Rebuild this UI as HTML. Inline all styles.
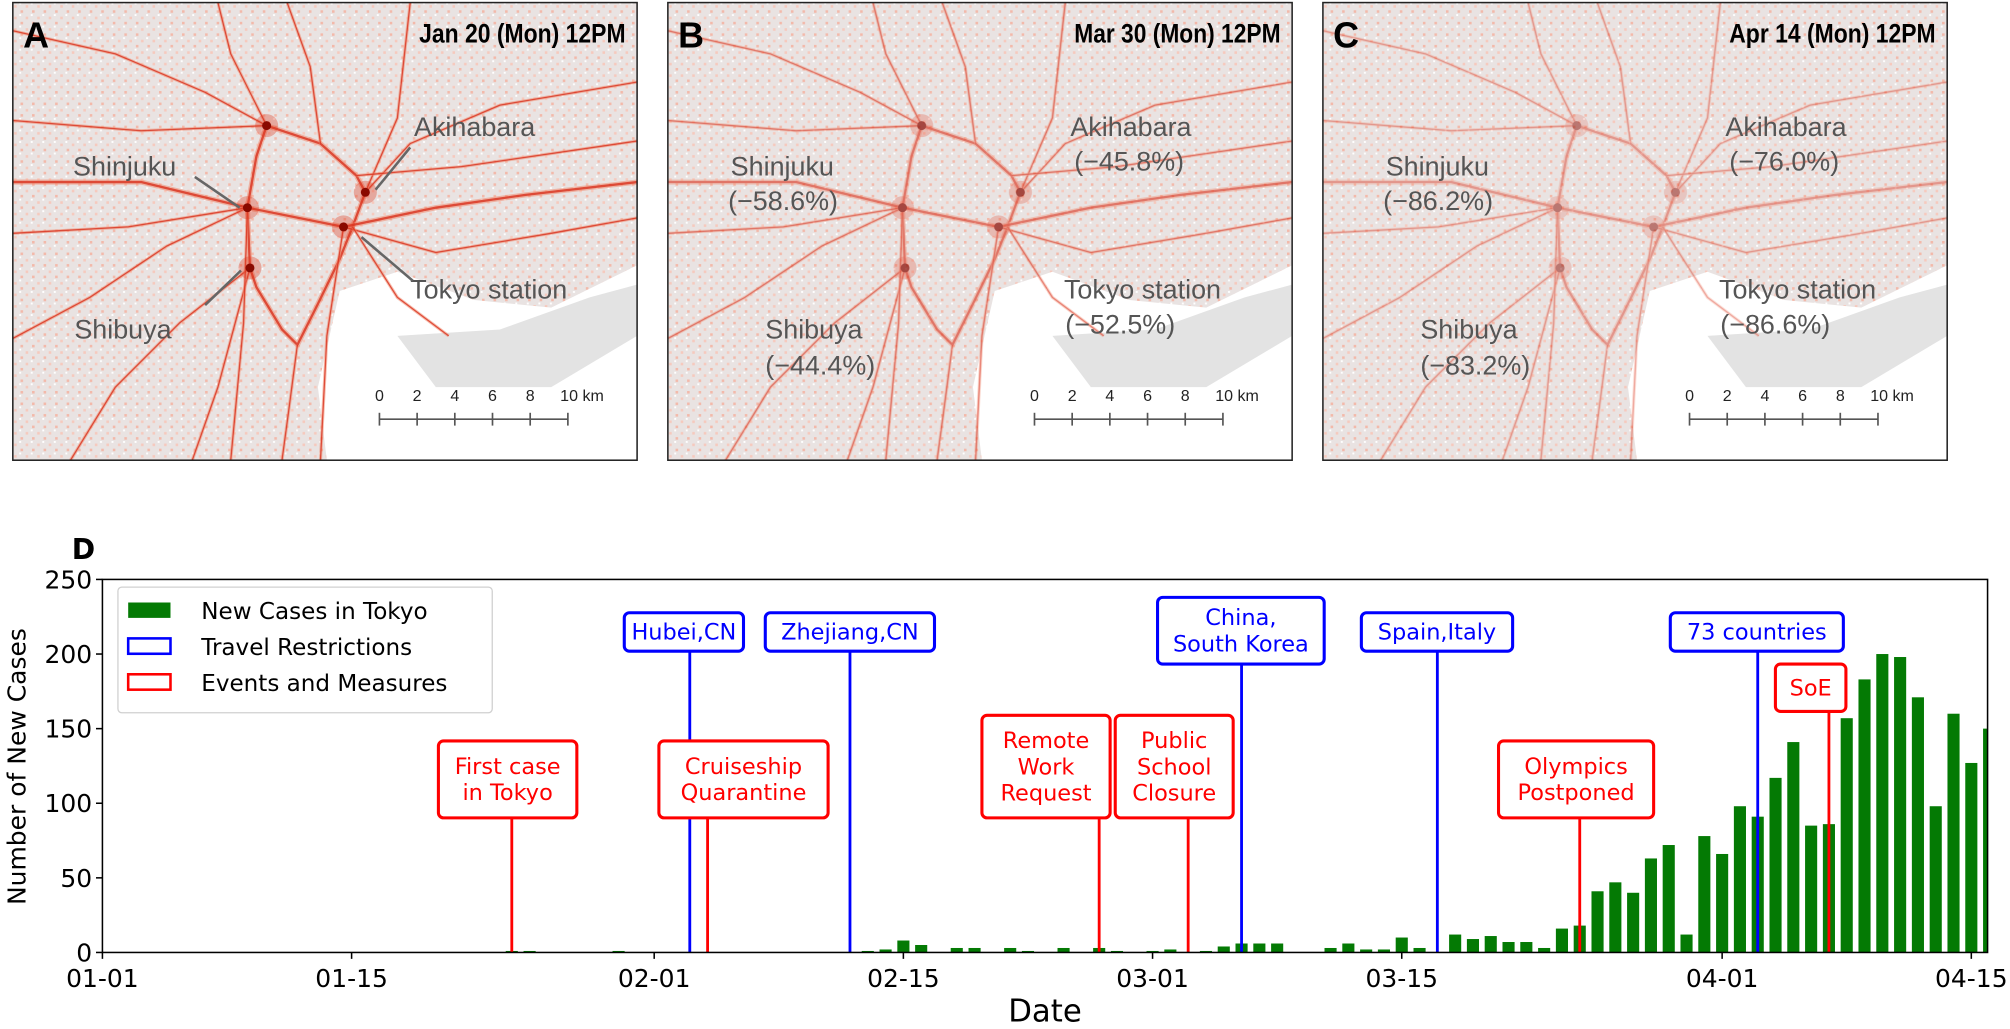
<!DOCTYPE html>
<html><head><meta charset="utf-8">
<style>
html,body{margin:0;padding:0;background:#fff;}
svg{display:block;}
text{font-family:"DejaVu Sans","Liberation Sans",sans-serif;}
.mt{font-family:"Liberation Sans",sans-serif;}
</style></head>
<body>
<svg id="fig" width="2010" height="1029" viewBox="0 0 1568 802.7" xmlns="http://www.w3.org/2000/svg">
<defs>
<pattern id="speck" width="9" height="9" patternUnits="userSpaceOnUse">
<rect width="9" height="9" fill="#e9e3e2"/>
<rect x="1" y="2" width="2" height="2" fill="#f6c9bd"/>
<rect x="6" y="6" width="2" height="2" fill="#f3b9aa"/>
<rect x="5" y="0" width="1.5" height="1.5" fill="#ffffff"/>
</pattern>
</defs>
<g id="maps"></g>
<g id="chart"></g>
</svg>
<script>
// ---------- chart data ----------
const caseDays  = [23,24,29,43,44,45,46,48,49,51,52,54,56,57,59,60,62,63,64,65,66,69,70,71,72,73,74,76,77,78,79,80,81,82,83,84,85,86,87,88,89,90,91,92,93,94,95,96,97,98,99,100,101,102,103,104,105,106];
const caseVals  = [1,1,1,1,2,8,5,3,3,3,1,3,3,1,1,2,1,4,6,6,6,3,6,2,2,10,3,12,9,11,7,7,3,16,18,41,47,40,63,72,12,78,66,98,91,117,141,85,86,157,183,200,198,171,98,160,127,150];
const xTickLabels = ["01-01","01-15","02-01","02-15","03-01","03-15","04-01","04-15"];
const xTickDays   = [0,14,31,45,59,73,91,105];
const yTickVals   = [0,50,100,150,200,250];
const eventNames = [["First case","in Tokyo"],["Hubei,CN"],["Cruiseship","Quarantine"],["Zhejiang,CN"],["Remote","Work","Request"],["Public","School","Closure"],["China,","South Korea"],["Spain,Italy"],["Olympics","Postponed"],["73 countries"],["SoE"]];
const eventDays  = [23,33,34,42,56,61,64,75,83,93,97];
const eventKinds = ["event","travel","event","travel","event","event","travel","travel","event","travel","event"];
// label box layout (display units): [left, right, top, bottom]
const boxLayout = [[342,450,578,638],[487,580,478,508],[514,646,578,638],[597,729,478,508],[766,866,558,638],[870,962,558,638],[903,1033,466,518],[1062,1180,478,508],[1169,1290,578,638],[1303,1438,478,508],[1385,1440,518,555]];

const NS="http://www.w3.org/2000/svg";
function mk(tag, attrs, parent){const e=document.createElementNS(NS,tag);for(const k in attrs)e.setAttribute(k,attrs[k]);parent.appendChild(e);return e;}

// axes geometry (display units)
const X0=79.9, PXD=13.885, Y0=743, PXC=291/250, XR=1550.5, YT=452;
const xS=d=>X0+d*PXD;
const yS=v=>Y0-v*PXC;

const chart=document.getElementById('chart');
// bars
const bw=0.68*PXD;
const clip=mk('clipPath',{id:'axclip'},chart);
mk('rect',{x:X0,y:YT,width:XR-X0,height:Y0-YT},clip);
const barsG=mk('g',{'clip-path':'url(#axclip)'},chart);


caseDays.forEach((d,i)=>{
  const r=mk('rect',{x:xS(d)-bw/2,y:yS(caseVals[i]),width:bw,height:caseVals[i]*PXC,fill:'#047a04'},barsG);
  
  
});
// event lines and boxes
eventDays.forEach((d,i)=>{
  const col=eventKinds[i]==='travel'?'#0000ff':'#ff0000';
  const b=boxLayout[i];
  const ln=mk('line',{x1:xS(d),x2:xS(d),y1:b[3],y2:Y0,stroke:col,'stroke-width':2.2},chart);
  
  
  const rc=mk('rect',{x:b[0],y:b[2],width:b[1]-b[0],height:b[3]-b[2],rx:4,fill:'#fff',stroke:col,'stroke-width':2.4},chart);
  
  
  const lines=eventNames[i], n=lines.length, lh=20.5;
  const cy=(b[2]+b[3])/2;
  lines.forEach((t,j)=>{
    const tx=mk('text',{x:(b[0]+b[1])/2,y:cy+(j-(n-1)/2)*lh+6,'text-anchor':'middle','font-size':17.5,fill:col},chart);
    tx.textContent=t;
    
    
  });
});
// axes frame
const fr=mk('rect',{x:X0,y:YT,width:XR-X0,height:Y0-YT,fill:'none',stroke:'#000','stroke-width':1.2},chart);


// ticks
xTickDays.forEach((d,i)=>{
  const t=mk('line',{x1:xS(d),x2:xS(d),y1:Y0,y2:Y0+5,stroke:'#000','stroke-width':1.2},chart);
  
  
  const l=mk('text',{x:xS(d),y:Y0+27,'text-anchor':'middle','font-size':19.5},chart);
  l.textContent=xTickLabels[i];
  
  
});
yTickVals.forEach(v=>{
  const t=mk('line',{x1:X0-5,x2:X0,y1:yS(v),y2:yS(v),stroke:'#000','stroke-width':1.2},chart);
  
  
  const l=mk('text',{x:X0-8,y:yS(v)+7,'text-anchor':'end','font-size':19.5},chart);
  l.textContent=String(v);
  
  
});
const xt=mk('text',{x:(X0+XR)/2,y:797,'text-anchor':'middle','font-size':24},chart);
xt.textContent='Date';


const yt=mk('text',{x:0,y:0,'text-anchor':'middle','font-size':19.5,transform:'translate(20,598) rotate(-90)'},chart);
yt.textContent='Number of New Cases';


const pd=mk('text',{x:56,y:436,'font-size':22,'font-weight':'bold'},chart);
pd.textContent='D';


// legend
const lg=mk('g',{},chart);


mk('rect',{x:92,y:458,width:292,height:98,rx:3,fill:'#fff',stroke:'#d0d0d0','stroke-width':1},lg);
const legItems=[["New Cases in Tokyo","#047a04",true],["Travel Restrictions","#0000ff",false],["Events and Measures","#ff0000",false]];
legItems.forEach((it,i)=>{
  const y=470+i*28;
  const sw=mk('rect',{x:100,y:y,width:33,height:12,fill:it[2]?it[1]:'#fff',stroke:it[2]?'none':it[1],'stroke-width':2},lg);
  
  
  const tx=mk('text',{x:157,y:y+13,'font-size':18},lg);
  tx.textContent=it[0];
  
  
});

// ---------- maps ----------
const maps=document.getElementById('maps');
const panels=[
 {x:10,letter:'A',title:'Jan 20 (Mon) 12PM',op:1,pct:null},
 {x:521,letter:'B',title:'Mar 30 (Mon) 12PM',op:0.72,pct:['(\u221258.6%)','(\u221245.8%)','(\u221252.5%)','(\u221244.4%)']},
 {x:1032,letter:'C',title:'Apr 14 (Mon) 12PM',op:0.5,pct:['(\u221286.2%)','(\u221276.0%)','(\u221286.6%)','(\u221283.2%)']}
];
const roads=[
 [[198,96],[240,110],[268,135],[275,148],[265,175],[255,200],[238,235],[222,267],[210,255],[190,222],[185,207],[183,160],[190,120],[198,96]],
 [[0,140],[100,140],[183,160],[258,175],[330,160],[400,150],[487,140]],
 [[183,160],[120,190],[60,230],[0,262]],
 [[185,207],[130,250],[80,300],[45,357]],
 [[198,96],[170,40],[160,0]],
 [[198,96],[150,70],[80,40],[0,22]],
 [[275,148],[310,110],[380,80],[487,62]],
 [[275,148],[300,90],[310,0]],
 [[258,175],[330,195],[420,180],[487,168]],
 [[222,267],[215,320],[210,357]],
 [[185,207],[160,300],[140,357]],
 [[240,110],[232,50],[214,0]],
 [[268,135],[350,128],[487,108]],
 [[0,92],[100,100],[198,96]],
 [[183,160],[180,250],[170,357]],
 [[258,175],[245,260],[240,357]],
 [[0,180],[90,175],[183,160]],
 [[265,175],[300,230],[340,260]]
];
panels.forEach((p,pi)=>{
  const g=mk('g',{transform:'translate('+p.x+',2)'},maps);
  
  
  mk('rect',{x:0,y:0,width:487,height:357,fill:'url(#speck)'},g);
  const bay=mk('polygon',{points:'255,225 300,210 360,232 420,238 487,205 487,357 245,357 238,300',fill:'#fff'},g);
  
  
  mk('polygon',{points:'300,260 380,255 450,230 487,220 487,260 420,300 330,300',fill:'#e3e3e3'},g);
  const rg=mk('g',{opacity:p.op,fill:'none','stroke-linejoin':'round'},g);
  
  
  roads.forEach((r,ri)=>{
    mk('polyline',{points:r.map(q=>q.join(',')).join(' '),stroke:'#f08a70','stroke-width':ri<2?4:2.5,opacity:0.55},rg);
    mk('polyline',{points:r.map(q=>q.join(',')).join(' '),stroke:'#d8301c','stroke-width':ri<2?1.8:1,opacity:0.8},rg);
  });
  [[183,160],[185,207],[258,175],[275,148],[198,96]].forEach(c=>{
    mk('circle',{cx:c[0],cy:c[1],r:9,fill:'#e03a20',opacity:0.35},rg);
    mk('circle',{cx:c[0],cy:c[1],r:3.5,fill:'#8a0a00'},rg);
  });
  mk('rect',{x:0,y:0,width:487,height:357,fill:'none',stroke:'#222','stroke-width':1.2},g);
  const L=mk('text',{x:8,y:35,'font-size':28,'font-weight':'bold',class:'mt'},g);
  L.textContent=p.letter;
  
  
  const T=mk('text',{x:478,y:31,'text-anchor':'end','font-size':21,'font-weight':'bold',class:'mt',textLength:161,lengthAdjust:'spacingAndGlyphs'},g);
  T.textContent=p.title;
  
  
  const lab=(t,x,y,anchor)=>{const e=mk('text',{x:x,y:y,'font-size':21,fill:'#555',class:'mt'},g);e.textContent=t;};
  if(!p.pct){
    lab('Shinjuku',47,135);lab('Akihabara',313,104);lab('Tokyo station',310,231);lab('Shibuya',48,262);
    [[142,136,177,160],[310,113,283,146],[312,217,272,183],[150,236,178,209]].forEach(l=>{
      const e=mk('line',{x1:l[0],y1:l[1],x2:l[2],y2:l[3],stroke:'#666','stroke-width':2},g);
      
      
    });
  } else {
    lab('Shinjuku',49,135);lab(p.pct[0],47,162);
    lab('Akihabara',314,104);lab(p.pct[1],317,131);
    lab('Tokyo station',309,231);lab(p.pct[2],310,258);
    lab('Shibuya',76,262);lab(p.pct[3],76,290);
  }
  // scale bar
  const sb=mk('g',{},g);
  
  
  mk('line',{x1:286,x2:433,y1:325,y2:325,stroke:'#555','stroke-width':1.3},sb);
  ['0','2','4','6','8','10 km'].forEach((t,k)=>{
    const xx=286+k*29.4;
    mk('line',{x1:xx,x2:xx,y1:320,y2:330,stroke:'#555','stroke-width':1.3},sb);
    const e=mk('text',{x:k===5?xx-6:xx,y:311,'font-size':12.5,'text-anchor':k===5?'start':'middle',fill:'#222',class:'mt'},sb);
    e.textContent=t;
  });
});
</script>
</body></html>
